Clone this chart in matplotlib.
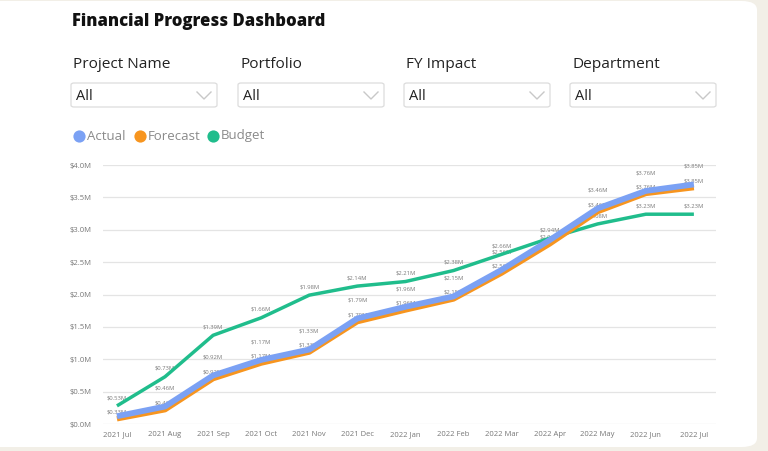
import matplotlib
matplotlib.use("Agg")
import matplotlib.pyplot as plt
from matplotlib.patches import FancyBboxPatch
from matplotlib.lines import Line2D

plt.rcParams['font.family'] = ['Open Sans', 'DejaVu Sans']

W, H = 768, 451

months = ["2021 Jul", "2021 Aug", "2021 Sep", "2021 Oct", "2021 Nov", "2021 Dec",
          "2022 Jan", "2022 Feb", "2022 Mar", "2022 Apr", "2022 May", "2022 Jun", "2022 Jul"]
actual = [0.12, 0.27, 0.75, 0.99, 1.15, 1.63, 1.81, 1.97, 2.38, 2.84, 3.33, 3.60, 3.70]
forecast = [0.08, 0.22, 0.70, 0.94, 1.11, 1.58, 1.76, 1.93, 2.33, 2.78, 3.28, 3.56, 3.65]
budget = [0.28, 0.73, 1.37, 1.64, 1.99, 2.13, 2.20, 2.37, 2.62, 2.87, 3.09, 3.24, 3.24]

actual_labels = ["", "$0.46M", "$0.92M", "$1.17M", "$1.33M", "$1.79M", "$1.96M",
                 "$2.15M", "$2.56M", "", "$3.46M", "$3.76M", "$3.85M"]
forecast_labels = ["$0.33M", "$0.46M", "$0.92M", "$1.17M", "$1.33M", "$1.79M", "$1.96M",
                   "$2.15M", "$2.56M", "$2.94M", "$3.46M", "$3.76M", "$3.85M"]
budget_labels = ["$0.53M", "$0.73M", "$1.39M", "$1.66M", "$1.98M", "$2.14M", "$2.21M",
                 "$2.38M", "$2.66M", "$2.94M", "$3.08M", "$3.23M", "$3.23M"]

filters = ["Project Name", "Portfolio", "FY Impact", "Department"]
filter_x = [71, 238, 404, 570]

C_ACT = "#7ba1f4"
C_FC = "#f7951f"
C_BUD = "#20bd8c"


def fx(x):
    return x / W


def fy(y):
    return 1 - y / H


fig = plt.figure(figsize=(W / 100, H / 100), dpi=100)
fig.patch.set_facecolor("#f2efe7")

# white card behind everything
card = FancyBboxPatch((fx(-20), fy(447)), fx(777), 446 / H,
                      boxstyle="round,pad=0,rounding_size=0.02",
                      transform=fig.transFigure, facecolor="white", edgecolor="none", zorder=-5)
fig.patches.append(card)

fig.text(fx(72), fy(21), "Financial Progress Dashboard", fontsize=12.0, fontweight=800,
         fontstretch="normal", color="#111111", va="center", ha="left")

# filter dropdowns
for name, x in zip(filters, filter_x):
    fig.text(fx(x + 2), fy(64), name, fontsize=11.1, color="#222222", va="center", ha="left")
    fig.patches.append(FancyBboxPatch((fx(x), fy(107)), fx(146), 24 / H,
                                      boxstyle="round,pad=0,rounding_size=0.004",
                                      transform=fig.transFigure, facecolor="white",
                                      edgecolor="#dcdcdc", linewidth=0.9))
    fig.text(fx(x + 5), fy(96), "All", fontsize=10.5, color="#222222", va="center", ha="left")
    fig.lines.append(Line2D([fx(x + 126), fx(x + 133), fx(x + 140)], [fy(92), fy(99), fy(92)],
                            transform=fig.transFigure, color="#c8c8c8", linewidth=1))

# legend
for lx, txt, col in [(79, "Actual", C_ACT), (140, "Forecast", C_FC), (213, "Budget", C_BUD)]:
    fig.lines.append(Line2D([fx(lx)], [fy(136)], transform=fig.transFigure, marker="o",
                            markersize=8.8, color=col, markeredgewidth=0))
    fig.text(fx(lx + 8), fy(136), txt, fontsize=9.5, color="#8a8a8a", va="center", ha="left")

ax = fig.add_axes([fx(103), fy(424), fx(613), 259 / H])
ax.set_zorder(1)
xs = list(range(len(months)))

ax.plot(xs, budget, color=C_BUD, linewidth=2.5, zorder=3, solid_capstyle="butt")
ax.plot(xs, forecast, color=C_FC, linewidth=3.8, zorder=4, solid_capstyle="butt")
ax.plot(xs, actual, color=C_ACT, linewidth=4.2, zorder=5, solid_capstyle="butt")

# data labels sit under the lines, like in the dashboard
for series, labels, off in [(budget, budget_labels, 6), (actual, actual_labels, 13),
                            (forecast, forecast_labels, 5)]:
    for x, v, lab in zip(xs, series, labels):
        if lab:
            ax.annotate(lab, (x, v), xytext=(0, off), textcoords="offset points",
                        fontsize=4.2, color="#7a7a7a", ha="center", va="center", zorder=2)

ax.set_xlim(-0.29, 12.46)
ax.set_ylim(0, 4.0)
yt = [0, 0.5, 1.0, 1.5, 2.0, 2.5, 3.0, 3.5, 4.0]
ax.set_yticks(yt)
ax.set_yticklabels([f"${v:.1f}M" for v in yt])
ax.set_xticks(xs)
ax.set_xticklabels(months)
ax.tick_params(axis="both", length=0, labelsize=5.5, labelcolor="#777777")
ax.tick_params(axis="y", pad=8)
ax.tick_params(axis="x", pad=5)
ax.grid(axis="y", color="#e4e4e4", linewidth=0.9, zorder=0)
ax.set_axisbelow(True)
for s in ax.spines.values():
    s.set_visible(False)
ax.patch.set_alpha(0)

fig.savefig("out.png", dpi=100)
